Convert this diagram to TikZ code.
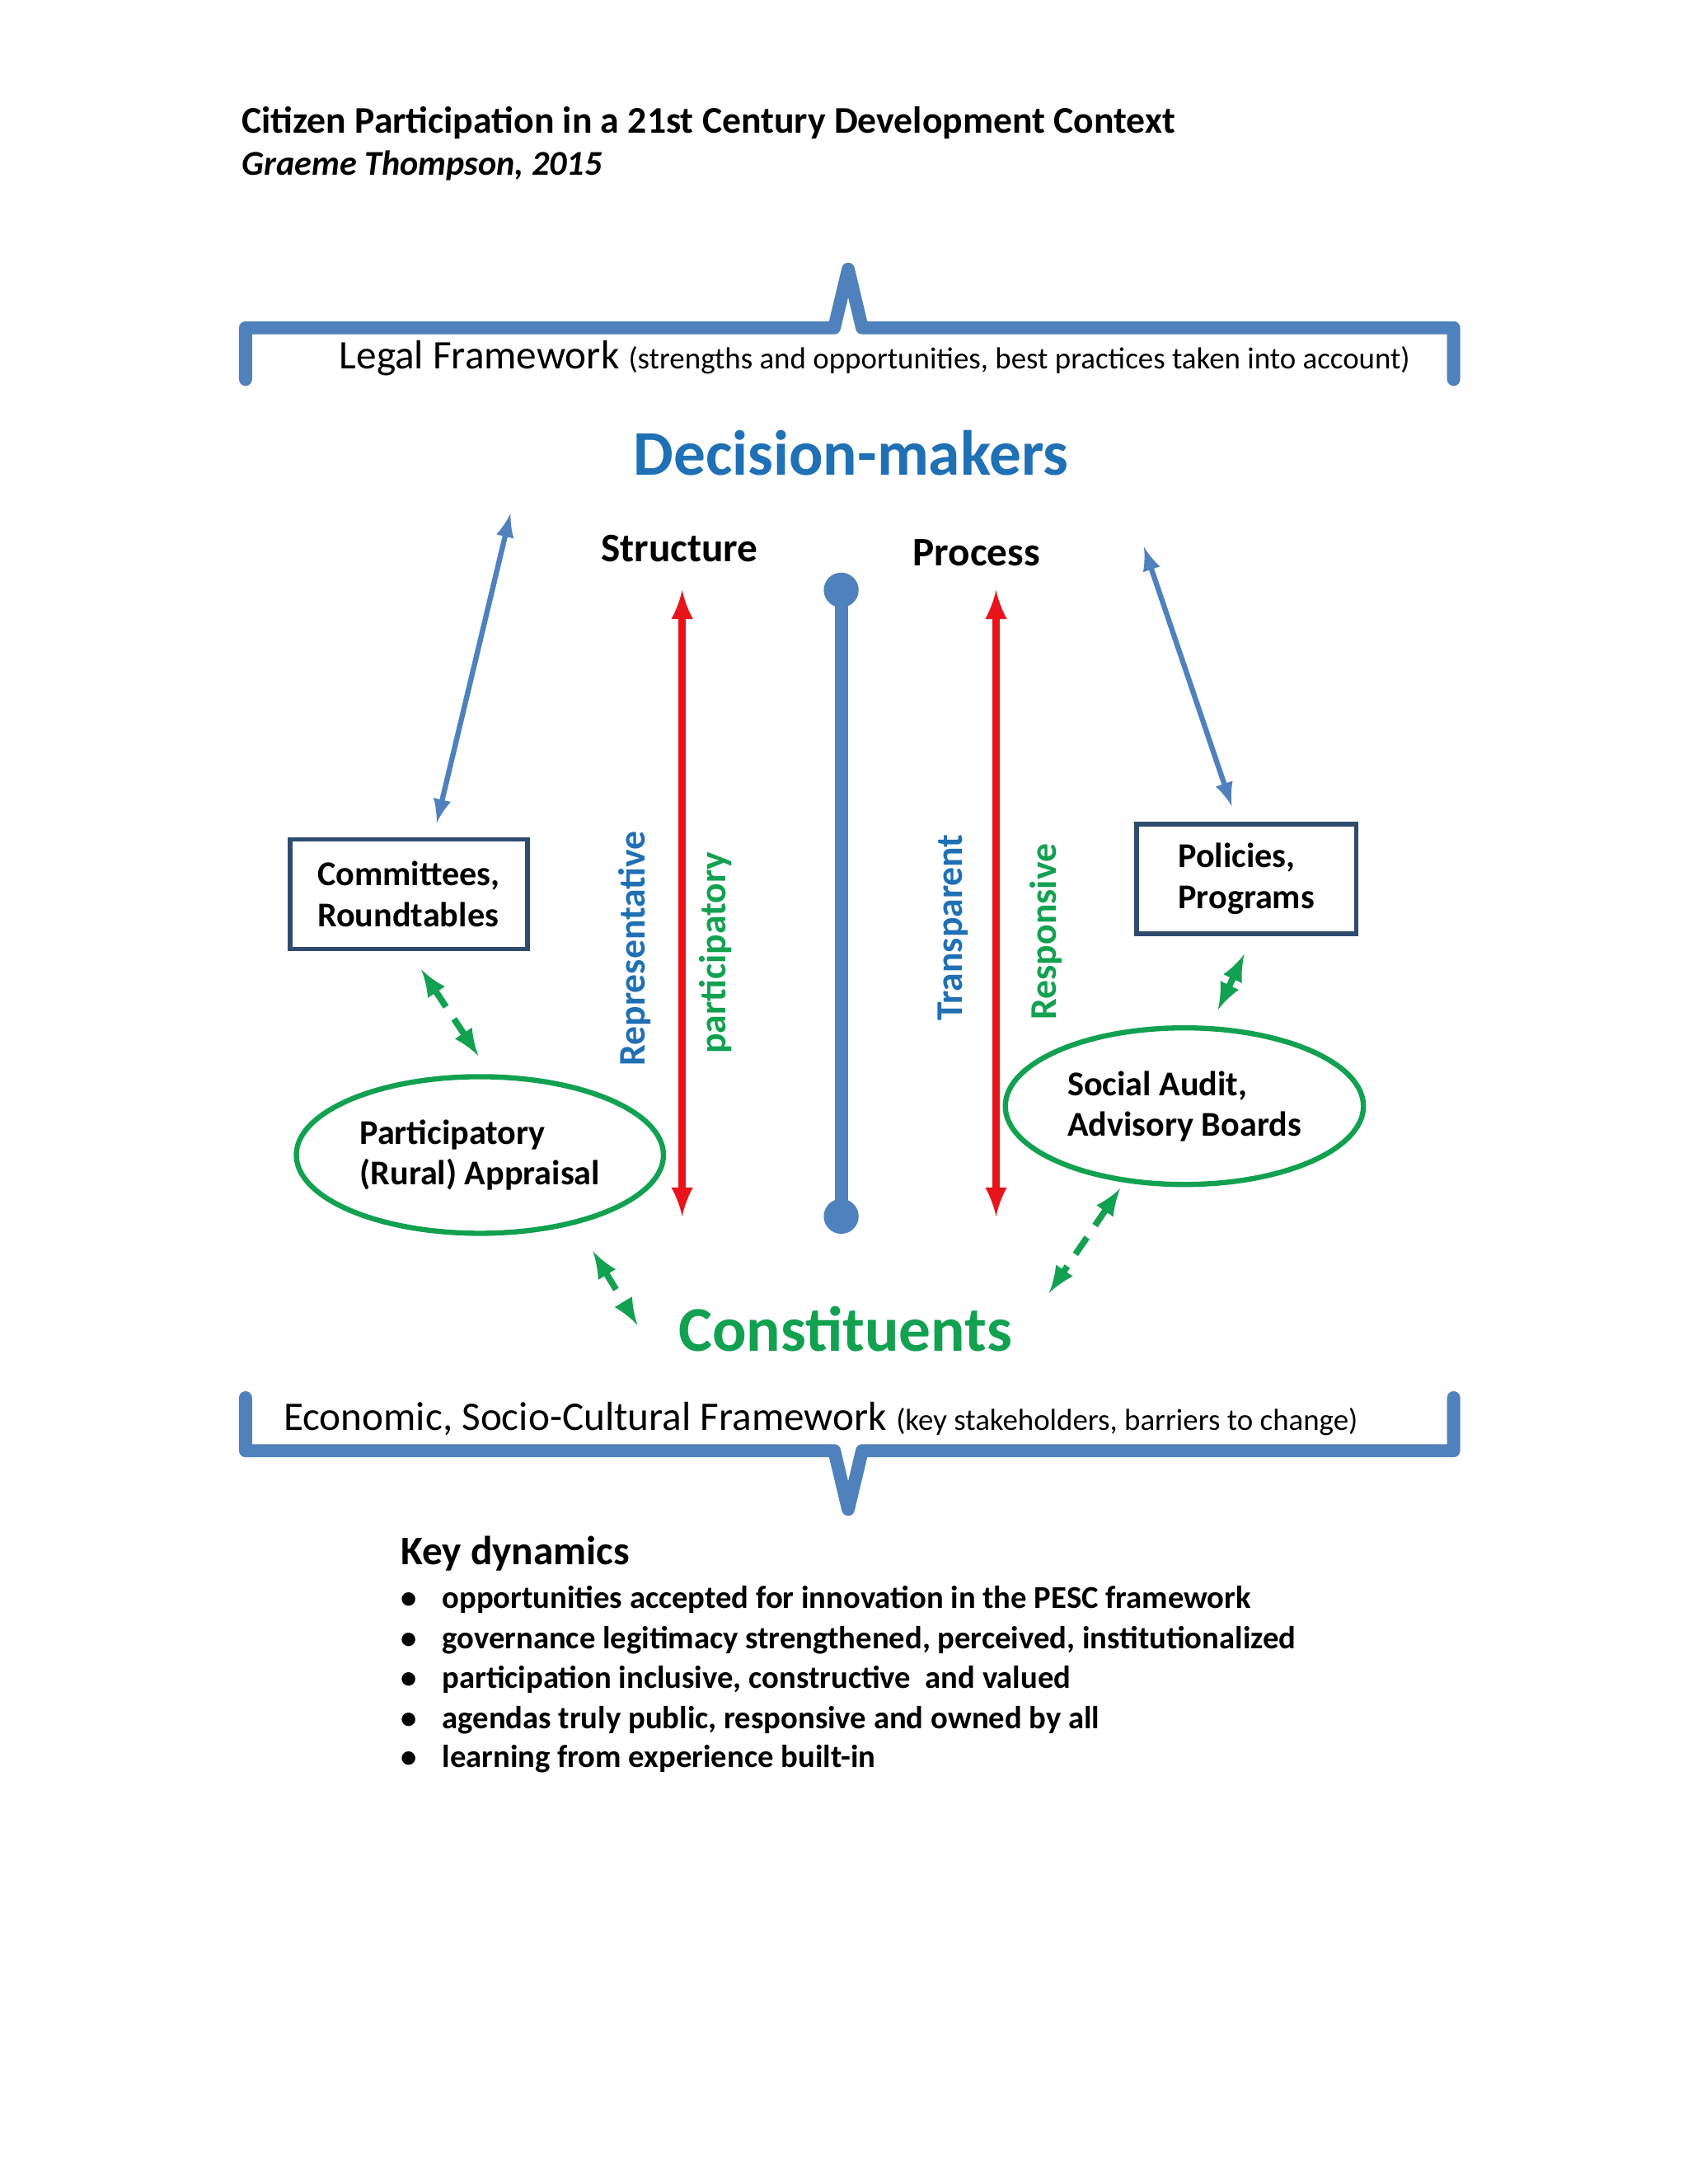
\documentclass[tikz,border=0pt]{standalone}
\usepackage{fontspec}
\setmainfont{Carlito}
\usetikzlibrary{shapes.geometric}
\usetikzlibrary{positioning}
\definecolor{frameblue}{HTML}{4F81BD}
\definecolor{dmblue}{HTML}{1F70B5}
\definecolor{boxblue}{HTML}{2F4B6E}
\definecolor{cgreen}{HTML}{12A150}
\definecolor{cred}{HTML}{E8141B}
\tikzset{
    frame/.style={frameblue, line width=4.5pt, line cap=round, line join=round},
    box/.style={draw=boxblue, line width=1.6pt, minimum width=2.88cm, minimum height=1.33cm, align=left, font=\fontsize{12}{14}\selectfont\bfseries},
    oval/.style={ellipse, draw=cgreen, line width=1.8pt, minimum width=3.83cm, minimum height=1.9cm, align=left, font=\fontsize{12}{14}\selectfont\bfseries},
    dash arrow/.style={cgreen, line width=2.2pt, dash pattern=on 7pt off 5pt, <->, >=latex},
    link/.style={frameblue, line width=1.8pt, <->, >=latex},
    vlabel/.style={rotate=90, font=\fontsize{13}{15}\selectfont\bfseries},
}
\begin{document}
\begin{tikzpicture}[x=0.016925cm, y=-0.016925cm]

    \fill[white] (0,0) rectangle (1210,1565.7);
    % heading
    \node[anchor=west, font=\fontsize{13}{15}\selectfont\bfseries] (title) at (166,88) {Citizen Participation in a 21st Century Development Context};
    \node[anchor=west, font=\fontsize{12}{14}\selectfont\bfseries\itshape] (author) at (166,119) {Graeme Thompson, 2015};

    % frames
    \draw[frame] (176,272) -- (176,235) -- (598,235) -- (608,193) -- (618,235) -- (1042,235) -- (1042,272);
    \node[anchor=west] (legal) at (236,257) {\fontsize{14}{16}\selectfont Legal Framework \fontsize{10.5}{12}\selectfont(strengths and opportunities, best practices taken into account)};
    \draw[frame] (176,1002) -- (176,1040) -- (598,1040) -- (608,1082) -- (618,1040) -- (1042,1040) -- (1042,1002);
    \node[anchor=west] (econ) at (196,1017) {\fontsize{14}{16}\selectfont Economic, Socio-Cultural Framework \fontsize{10.5}{12}\selectfont(key stakeholders, barriers to change)};

    % actors
    \node[dmblue, font=\fontsize{22}{26}\selectfont\bfseries] (dm) at (610,325) {Decision-makers};
    \node[cgreen, font=\fontsize{22}{26}\selectfont\bfseries] (cons) at (606,953) {Constituents};
    \node[font=\fontsize{14}{16}\selectfont\bfseries] (struct) at (487,393) {Structure};
    \node[font=\fontsize{14}{16}\selectfont\bfseries] (proc) at (700,396) {Process};

    % axes
    \coordinate (axtop) at (603,423);
    \coordinate (axbot) at (603,872);
    \draw[frameblue, line width=4.5pt] (axtop) -- (axbot);
    \fill[frameblue] (axtop) circle (12.5) (axbot) circle (12.5);
    \coordinate (stop) at (489,423);
    \coordinate (sbot) at (489,872);
    \coordinate (ptop) at (714,423);
    \coordinate (pbot) at (714,872);
    \draw[cred, line width=2.4pt, <->, >=latex] (stop) -- (sbot);
    \draw[cred, line width=2.4pt, <->, >=latex] (ptop) -- (pbot);
    \node[vlabel, dmblue] (repr) at (455,680) {Representative};
    \node[vlabel, cgreen] (part) at (513,683) {participatory};
    \node[vlabel, dmblue] (trans) at (683,665) {Transparent};
    \node[vlabel, cgreen] (resp) at (750,668) {Responsive};

    % mechanisms
    \node[box] (comm) at (293,641) {Committees,\\Roundtables};
    \node[box, minimum width=2.66cm] (pol) at (893.5,630) {Policies,\\Programs};
    \node[oval] (pra) at (344,828) {Participatory\\(Rural) Appraisal};
    \node[oval] (sa) at (849,793) {Social Audit,\\Advisory Boards};

    \coordinate (l1) at (366,368);
    \coordinate (l2) at (313,590);
    \coordinate (r1) at (820,392);
    \coordinate (r2) at (883,578);
    \draw[link] (l1) -- (l2);
    \draw[link] (r1) -- (r2);

    \coordinate (g1) at (302,695);
    \coordinate (g2) at (343,757);
    \coordinate (g3) at (892,684);
    \coordinate (g4) at (873,724);
    \coordinate (g5) at (425,897);
    \coordinate (g6) at (457,950);
    \coordinate (g7) at (803,852);
    \coordinate (g8) at (752,927);
    \draw[dash arrow] (g1) -- (g2);
    \draw[dash arrow] (g3) -- (g4);
    \draw[dash arrow] (g5) -- (g6);
    \draw[dash arrow] (g7) -- (g8);

    % key dynamics
    \node[anchor=west, font=\fontsize{14}{16}\selectfont\bfseries] (key) at (280,1114) {Key dynamics};
    \foreach \y/\txt in {1147/{opportunities accepted for innovation in the PESC framework},
                         1176/{governance legitimacy strengthened, perceived, institutionalized},
                         1204/{participation inclusive, constructive \ and valued},
                         1233/{agendas truly public, responsive and owned by all},
                         1261/{learning from experience built-in}} {
        \node[anchor=west, font=\fontsize{11}{13}\selectfont\bfseries] at (280,\y) {\textbullet\hspace{0.8em}\txt};
    }
\end{tikzpicture}
\end{document}
